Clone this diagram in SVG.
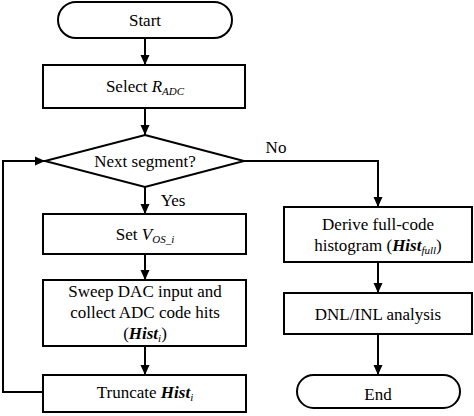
<svg xmlns="http://www.w3.org/2000/svg" width="474" height="416" viewBox="0 0 474 416">
<style>
.box{fill:#fff;stroke:#000;stroke-width:2}
.ln{fill:none;stroke:#000;stroke-width:2}
text{font-family:"Liberation Serif","DejaVu Serif",serif;font-size:17px;fill:#000;text-anchor:middle}
.it{font-style:italic}
.bi{font-style:italic;font-weight:bold}
.sub{font-size:11px;font-style:italic}
</style>
<defs>
<marker id="ah" markerWidth="10" markerHeight="10" refX="10" refY="5" orient="auto" markerUnits="userSpaceOnUse">
<path d="M0,0.5 L10,5 L0,9.5 Z" fill="#000"/>
</marker>
</defs>
<rect width="474" height="416" fill="#fff"/>
<g id="connectors">
<path class="ln" d="M145,38 V65" marker-end="url(#ah)"/>
<path class="ln" d="M145,108 V135" marker-end="url(#ah)"/>
<path class="ln" d="M145,187 V214" marker-end="url(#ah)"/>
<path class="ln" d="M145,254 V280" marker-end="url(#ah)"/>
<path class="ln" d="M145,346 V375" marker-end="url(#ah)"/>
<path class="ln" d="M43,392 H3 V161 H45" marker-end="url(#ah)"/>
<path class="ln" d="M244,161 H378 V207" marker-end="url(#ah)"/>
<path class="ln" d="M378,262 V293" marker-end="url(#ah)"/>
<path class="ln" d="M378,334 V375" marker-end="url(#ah)"/>
<text x="276" y="153">No</text>
<text x="173" y="206">Yes</text>
</g>
<g id="start">
<rect class="box" x="58" y="2" width="174" height="36" rx="18"/>
<text x="145" y="26">Start</text>
</g>
<g id="select">
<rect class="box" x="43" y="65" width="202" height="43"/>
<text x="145" y="92">Select <tspan class="it">R</tspan><tspan class="sub" dy="3">ADC</tspan></text>
</g>
<g id="decision">
<path class="box" d="M145,135 L244,161 L145,187 L45,161 Z"/>
<text x="145" y="167">Next segment?</text>
</g>
<g id="setvos">
<rect class="box" x="43" y="214" width="203" height="40"/>
<text x="145" y="240">Set <tspan class="it">V</tspan><tspan class="sub" dy="3">OS_i</tspan></text>
</g>
<g id="sweep">
<rect class="box" x="43" y="280" width="203" height="66"/>
<text x="145" y="297">Sweep DAC input and</text>
<text x="145" y="318">collect ADC code hits</text>
<text x="145" y="339">(<tspan class="bi">Hist</tspan><tspan class="sub" dy="3">i</tspan><tspan dy="-3">)</tspan></text>
</g>
<g id="truncate">
<rect class="box" x="43" y="375" width="203" height="37"/>
<text x="145" y="398">Truncate <tspan class="bi">Hist</tspan><tspan class="sub" dy="3">i</tspan></text>
</g>
<g id="derive">
<rect class="box" x="284" y="207" width="188" height="55"/>
<text x="378" y="230">Derive full-code</text>
<text x="378" y="251">histogram (<tspan class="bi">Hist</tspan><tspan class="sub" dy="3">full</tspan><tspan dy="-3">)</tspan></text>
</g>
<g id="dnl">
<rect class="box" x="284" y="293" width="188" height="41"/>
<text x="378" y="320">DNL/INL analysis</text>
</g>
<g id="end">
<rect class="box" x="297" y="375" width="163" height="33" rx="16.5"/>
<text x="378" y="400">End</text>
</g>
</svg>
